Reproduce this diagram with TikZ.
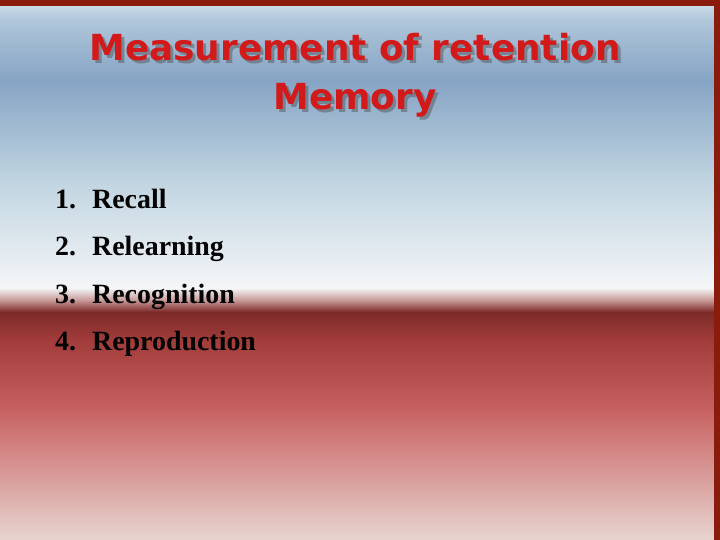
\documentclass[tikz,border=0pt]{standalone}
\usepackage{fontspec}
\setmainfont{Liberation Serif}
\newfontfamily\titlefont{DejaVu Sans}
\definecolor{c0}{HTML}{E8D4D0}
\definecolor{c1}{HTML}{C86262}
\definecolor{c2}{HTML}{A23C3A}
\definecolor{c3}{HTML}{7C2A28}
\definecolor{c4}{HTML}{C89A98}
\definecolor{c5}{HTML}{F4F6F8}
\definecolor{c6}{HTML}{C0D4E0}
\definecolor{c7}{HTML}{86A4C4}
\definecolor{c8}{HTML}{B0C6DA}
\definecolor{c9}{HTML}{D4E2EC}
\definecolor{frame}{HTML}{8A1C0E}
\definecolor{titlered}{HTML}{D21A1A}
\pgfdeclareverticalshading{bgshade}{100bp}{color(0bp)=(c0);color(25bp)=(c0);color(37.04bp)=(c1);color(43.52bp)=(c2);color(46.11bp)=(c3);color(47.22bp)=(c4);color(48.33bp)=(c5);color(58.33bp)=(c6);color(67.59bp)=(c7);color(73.15bp)=(c8);color(75bp)=(c9);color(100bp)=(c9)}
\tikzset{
  ttl/.style={font=\titlefont\bfseries\fontsize{36}{40}\selectfont, text=titlered, inner sep=0pt},
  shad/.style={font=\titlefont\bfseries\fontsize{36}{40}\selectfont, text=black!70, opacity=0.45, inner sep=0pt},
  item/.style={font=\bfseries\fontsize{28}{32}\selectfont, inner sep=0pt, anchor=base west}
}
\begin{document}
\begin{tikzpicture}[x=1bp,y=-1bp]
\useasboundingbox (0,0) rectangle (720,540);
\shade[shading=bgshade] (0,0) rectangle (720,540);
\fill[frame] (0,0) rectangle (720,6);
\fill[frame] (714,0) rectangle (720,540);
\node[shad] (s1) at (358,50) {Measurement of retention};
\node[shad] (s2) at (358,103) {Memory};
\node[ttl] (t1) at (355,47) {Measurement of retention};
\node[ttl] (t2) at (355,100) {Memory};
\foreach \n/\t [count=\i] in {1/Recall,2/Relearning,3/Recognition,4/Reproduction}{
  \node[item] (n\i) at (55,{209+47*(\i-1)}) {\n.};
  \node[item] (l\i) at (92,{209+47*(\i-1)}) {\t};
}
\end{tikzpicture}
\end{document}
